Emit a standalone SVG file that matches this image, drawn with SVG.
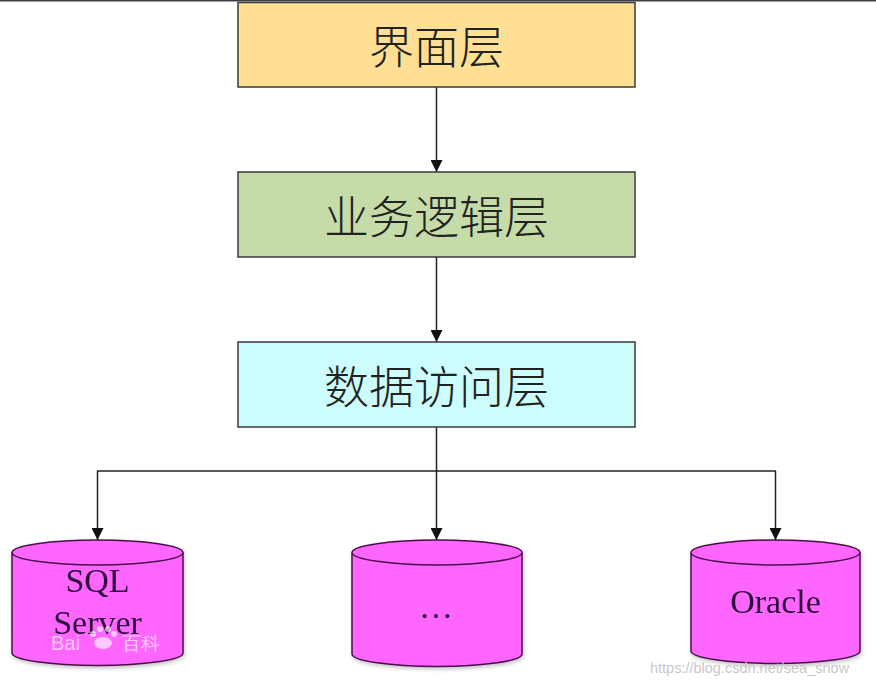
<svg xmlns="http://www.w3.org/2000/svg" width="876" height="686" viewBox="0 0 876 686">
<style>
.box{stroke:#3a3a3a;stroke-width:1.5}
.cn{font-family:"Noto Sans CJK SC","Noto Sans",sans-serif;font-weight:300;font-size:45px;fill:#222;text-anchor:middle;dominant-baseline:central}
.db{fill:#ff66ff;stroke:#4a1048;stroke-width:1.5}
.en{font-family:"Liberation Serif","Times New Roman",serif;font-size:34px;fill:#2a0a3a;text-anchor:middle}
.conn{stroke:#222;stroke-width:1.5;fill:none}
.wm{font-family:"Liberation Sans",Arial,sans-serif;fill:#ffffff;fill-opacity:0.65}
</style>
<defs>
<marker id="arr" markerWidth="12" markerHeight="12" refX="12" refY="6" orient="auto" markerUnits="userSpaceOnUse">
<path d="M0,0 L12,6 L0,12 Z" fill="#111"/>
</marker>
<filter id="sh" x="-10%" y="-10%" width="120%" height="130%">
<feGaussianBlur in="SourceAlpha" stdDeviation="2"/>
<feOffset dx="1" dy="2"/>
<feComponentTransfer><feFuncA type="linear" slope="0.25"/></feComponentTransfer>
<feMerge><feMergeNode/><feMergeNode in="SourceGraphic"/></feMerge>
</filter>
</defs>
<rect width="876" height="686" fill="#ffffff"/>
<line x1="0" y1="0.8" x2="876" y2="0.8" stroke="#3c3f44" stroke-width="1.6"/>

<g id="connectors">
<line class="conn" x1="436.5" y1="87" x2="436.5" y2="172" marker-end="url(#arr)"/>
<line class="conn" x1="436.5" y1="257" x2="436.5" y2="342" marker-end="url(#arr)"/>
<line class="conn" x1="436.5" y1="427" x2="436.5" y2="540" marker-end="url(#arr)"/>
<line class="conn" x1="97" y1="471" x2="776" y2="471"/>
<line class="conn" x1="97.5" y1="471" x2="97.5" y2="540" marker-end="url(#arr)"/>
<line class="conn" x1="775.5" y1="471" x2="775.5" y2="540" marker-end="url(#arr)"/>
</g>

<g id="ui-layer">
<rect class="box" x="238" y="2.5" width="397" height="84.5" fill="#ffdf94"/>
<text class="cn" x="436.5" y="44">界面层</text>
</g>
<g id="business-layer">
<rect class="box" x="238" y="172" width="397" height="85" fill="#c6dca8"/>
<text class="cn" x="436.5" y="214">业务逻辑层</text>
</g>
<g id="data-access-layer">
<rect class="box" x="238" y="342" width="397" height="85" fill="#ccfcfc"/>
<text class="cn" x="436.5" y="384">数据访问层</text>
</g>

<g id="db-sqlserver" filter="url(#sh)">
<path class="db" d="M12,552.5 A85.5,12.5 0 0 1 183,552.5 L183,653 A85.5,12.5 0 0 1 12,653 Z"/>
<path class="db" fill="none" d="M12,552.5 A85.5,12.5 0 0 0 183,552.5"/>
<text class="en" x="97.5" y="592">SQL</text>
<text class="en" x="97.5" y="634">Server</text>
</g>
<g id="db-other" filter="url(#sh)">
<path class="db" d="M352,552.5 A85,12.5 0 0 1 522,552.5 L522,654 A85,12.5 0 0 1 352,654 Z"/>
<path class="db" fill="none" d="M352,552.5 A85,12.5 0 0 0 522,552.5"/>
<text class="en" x="436" y="618" font-size="30">…</text>
</g>
<g id="db-oracle" filter="url(#sh)">
<path class="db" d="M691,552.5 A84.5,12.5 0 0 1 860,552.5 L860,651 A84.5,12.5 0 0 1 691,651 Z"/>
<path class="db" fill="none" d="M691,552.5 A84.5,12.5 0 0 0 860,552.5"/>
<text class="en" x="775.5" y="613">Oracle</text>
</g>

<g id="watermarks">
<text class="wm" x="51" y="650" font-size="20">Bai</text>
<g fill="#ffffff" fill-opacity="0.65">
<ellipse cx="103" cy="643" rx="9" ry="6"/>
<circle cx="93" cy="634" r="3"/>
<circle cx="100" cy="629" r="3"/>
<circle cx="108" cy="629" r="3"/>
<circle cx="114" cy="634" r="3"/>
</g>
<text class="wm" x="122" y="650" font-size="19" font-family="Noto Sans CJK SC,sans-serif">百科</text>
<text x="650" y="673" font-family="Liberation Sans,Arial,sans-serif" font-size="14.5" fill="#c8c8c8">https://blog.csdn.net/sea_snow</text>
</g>
</svg>
